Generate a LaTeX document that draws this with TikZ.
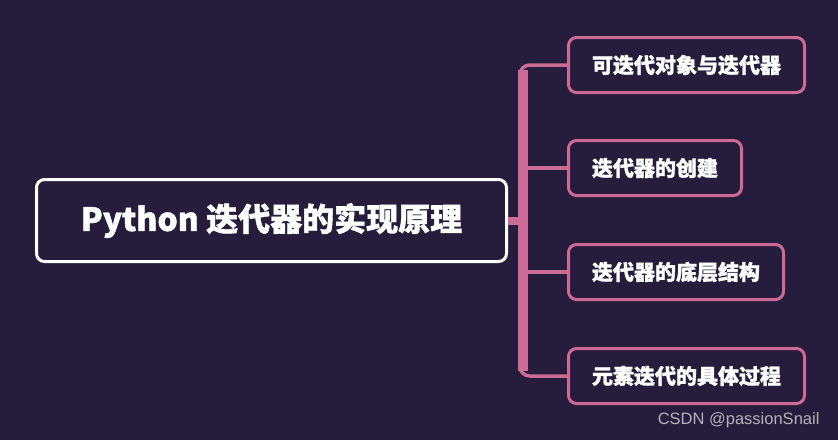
\documentclass[tikz,border=0pt]{standalone}
\usepackage{fontspec}
\newfontfamily\cjk{Noto Sans CJK SC}[BoldFeatures={FakeBold=1.3}]
\newfontfamily\wmfont{Liberation Sans}
\usetikzlibrary{positioning,calc}
\definecolor{bgpurple}{HTML}{261C3B}
\definecolor{mappink}{HTML}{CD6B97}
\definecolor{wmgrey}{HTML}{B4B2BA}

\begin{document}
\begin{tikzpicture}[
    x=1pt, y=-1pt,
    rootbox/.style={draw=white, line width=3pt, rounded corners=8pt, fill=bgpurple,
        minimum width=470pt, minimum height=82pt, text=white, font=\cjk\bfseries\fontsize{32}{38}\selectfont},
    topic/.style={draw=mappink, line width=3pt, rounded corners=8pt, fill=bgpurple, anchor=west,
        minimum height=55pt, inner xsep=23.5pt, text=white, font=\cjk\bfseries\fontsize{21}{25}\selectfont},
    branch/.style={draw=mappink, line width=3.5pt, rounded corners=10pt},
    trunk/.style={draw=mappink, line width=10pt}
]
    \fill[bgpurple] (0,0) rectangle (838,440);
    \useasboundingbox (0,0) rectangle (838,440);

    \node[rootbox] (root) at (271.5,220.5) {Python 迭代器的实现原理};

    \node[topic] (iterable) at (567,65) {可迭代对象与迭代器};
    \node[topic] (create) at (567,168) {迭代器的创建};
    \node[topic] (under) at (567,272) {迭代器的底层结构};
    \node[topic] (process) at (567,376) {元素迭代的具体过程};

    \coordinate (bend) at (519.75,0);
    \coordinate (spine) at (523,0);

    % branches from the spine
    \draw[branch] (iterable.west) -- (iterable.west -| bend) -- (process.west -| bend) -- (process.west);
    \draw[branch] (create.west -| spine) -- (create.west);
    \draw[branch] (under.west -| spine) -- (under.west);
    \draw[trunk] ($(iterable.west -| spine)+(0,5)$) -- ($(process.west -| spine)+(0,-5)$);
    \draw[mappink, line width=8pt] (root.east) -- (root.east -| spine);

    \node[font=\wmfont\fontsize{16.5}{20}\selectfont, text=wmgrey, anchor=east] (mark) at (823,420) {CSDN @passionSnail};
\end{tikzpicture}
\end{document}
